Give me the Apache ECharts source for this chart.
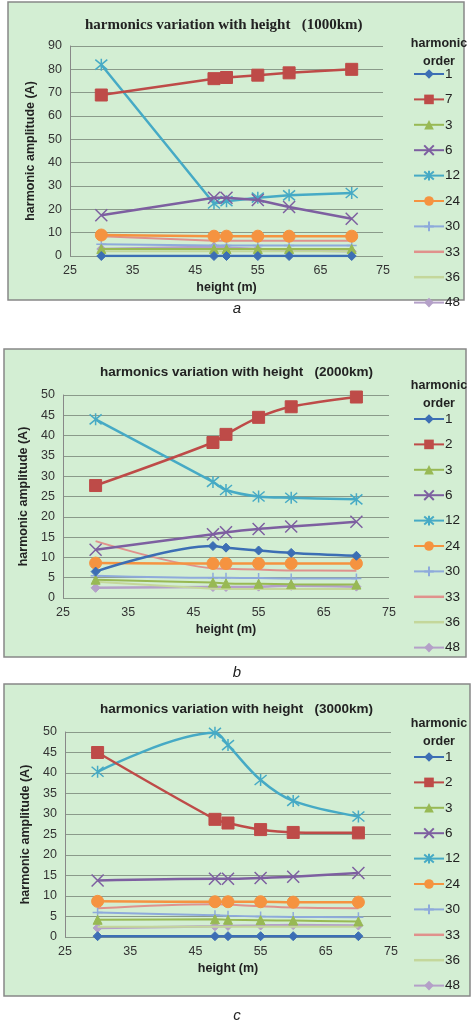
<!DOCTYPE html>
<html><head><meta charset="utf-8">
<script src="https://cdn.jsdelivr.net/npm/echarts@6/dist/echarts.min.js"></script>
<style>html,body{margin:0;padding:0;background:#fff}#c{width:474px;height:1022px}</style>
</head><body><div id="c"></div>
<script>
const heights = [30, 48, 50, 55, 60, 70];
const xTicks = [25, 35, 45, 55, 65, 75];
const ordersA = ['1','7','3','6','12','24','30','33','36','48'];
const ordersBC = ['1','2','3','6','12','24','30','33','36','48'];
// Panel a (1000km)
const a1  = [0, 0, 0, 0, 0, 0];
const a7  = [69, 76, 76.5, 77.5, 78.5, 80];
const a3  = [3, 3, 3, 3, 3, 3];
const a6  = [17.5, 25, 25, 24, 21, 16];
const a12 = [82, 22.5, 23.5, 25, 26, 27];
const a24 = [9, 8.5, 8.5, 8.5, 8.5, 8.5];
const a30 = [5, 4.5, 4.5, 4.5, 4.5, 4.5];
const a33 = [8.5, 6.5, 6.5, 6.5, 6.5, 6.5];
const a36 = [2, 2, 2, 2, 2, 2];
const a48 = [3, 4, 3.5, 3, 2.5, 2];
// Panel b (2000km)
const b1  = [6.5, 12.8, 12.4, 11.7, 11.1, 10.4];
const b2  = [27.7, 38.3, 40.3, 44.5, 47.1, 49.5];
const b3  = [4.5, 3.8, 3.6, 3.5, 3.4, 3.3];
const b6  = [11.9, 15.7, 16.2, 17, 17.6, 18.8];
const b12 = [44, 28.6, 26.6, 25, 24.7, 24.3];
const b24 = [8.6, 8.5, 8.5, 8.5, 8.5, 8.5];
const b30 = [5.5, 5, 5, 4.9, 4.8, 4.8];
const b33 = [14, 7.3, 7.2, 7, 6.8, 6.7];
const b36 = [4, 2.3, 2.2, 2.2, 2.2, 2.2];
const b48 = [2.5, 2.7, 2.7, 2.8, 3, 2.8];
// Panel c (3000km)
const c1  = [0.2, 0.2, 0.2, 0.2, 0.2, 0.2];
const c2  = [45, 28.7, 27.8, 26.2, 25.5, 25.4];
const c3  = [4.2, 4.3, 4.2, 4.1, 4, 3.8];
const c6  = [13.8, 14.2, 14.2, 14.4, 14.7, 15.6];
const c12 = [40.3, 49.8, 46.8, 38.3, 33.2, 29.4];
const c24 = [8.7, 8.6, 8.6, 8.6, 8.5, 8.5];
const c30 = [6, 5.3, 5.2, 5, 4.9, 4.8];
const c33 = [7, 8, 7.9, 7.5, 7.2, 7];
const c36 = [2.5, 2.5, 2.5, 2.5, 2.5, 2.5];
const c48 = [2.2, 2.6, 2.7, 2.8, 2.9, 2.8];

const colors = ['#3c6eb4','#be4b48','#98b954','#7d5fa0','#46aac5','#f59340','#8eaadb','#e0918c','#c4d79b','#b4a0c8'];
const xPath = 'path://M0,0L10,10M10,0L0,10';
const starPath = 'path://M0,0L10,10M10,0L0,10M5,-1L5,11';
const plusPath = 'path://M5,0L5,10M0,5L10,5';
const linePath = 'path://M0,0L30,0L30,2.5L0,2.5Z';
const symbols = ['diamond','rect','triangle',xPath,starPath,'circle',plusPath,'none','none','diamond'];
const sizes = [9,12,9,12,12,12,10,0,0,9];
const widths = [2.5,2.5,2,2.5,2.5,2.5,2,2,2,2.5];
const panels = [
  {names: ordersA, data:[a1,a7,a3,a6,a12,a24,a30,a33,a36,a48], max:90, interval:10, smooth:false},
  {names: ordersBC, data:[b1,b2,b3,b6,b12,b24,b30,b33,b36,b48], max:50, interval:5, smooth:true},
  {names: ordersBC, data:[c1,c2,c3,c6,c12,c24,c30,c33,c36,c48], max:50, interval:5, smooth:true}
];
const grids = [
  {left:70, width:313, top:46, height:210},
  {left:63, width:326, top:395, height:203},
  {left:65, width:326, top:732, height:205}
];
const boxes = [[8,2,456,298],[4,349,462,308],[4,684,466,312]];
const titles = ['harmonics variation with height   (1000km)','harmonics variation with height   (2000km)','harmonics variation with height   (3000km)'];
const titleY = [13, 360, 697];
const legTop = [62, 407, 745];
const ordTop = [30, 372, 710];
const capY = [309, 673, 1016];
const caps = ['a','b','c'];

const font = 'Liberation Sans';
const option = {
  animation:false, backgroundColor:'#fff',
  graphic: boxes.map(b=>({type:'rect', shape:{x:b[0],y:b[1],width:b[2],height:b[3]}, style:{fill:'#d3eed3', stroke:'#888', lineWidth:1.5}, z:-10}))
    .concat(caps.map((c,i)=>({type:'text', x:237, y:capY[i], style:{text:c, font:'italic 15px Liberation Sans', fill:'#222', align:'center', verticalAlign:'middle'}}))),
  title: titles.map((t,i)=>({text:t, left: i===0?80:95, top:titleY[i], textStyle:{fontFamily: i===0?'Liberation Serif':font, fontWeight:'bold', fontSize: i===0?15:13.5, color:'#222'}}))
    .concat([0,1,2].map(i=>({text:'harmonic\norder', left:434, textAlign:'center', top:ordTop[i], textStyle:{fontFamily:font, fontWeight:'bold', fontSize:12.5, lineHeight:18, color:'#222'}}))),
  legend: panels.map((p,i)=>({orient:'vertical', left:408, top:legTop[i], itemWidth:30, itemHeight:12, itemGap:11.4,
    data:p.names.map((n,k)=>symbols[k]==='none' ? {name:n, icon:linePath} : {name:n}),
    textStyle:{fontFamily:font, fontSize:13.5, color:'#222', padding:[0,0,0,-4]}, selectedMode:false})),
  grid: grids,
  xAxis: grids.map((g,i)=>({type:'value', gridIndex:i, min:25, max:75, interval:10,
    name:'height (m)', nameLocation:'middle', nameGap: 25, nameTextStyle:{fontFamily:font, fontWeight:'bold', fontSize:12.5, color:'#222'},
    axisLine:{show:false}, axisTick:{show:false}, splitLine:{show:false}, axisLabel:{fontFamily:font, fontSize:12.5, color:'#333'}})),
  yAxis: panels.map((p,i)=>({type:'value', gridIndex:i, min:0, max:p.max, interval:p.interval,
    name:'harmonic amplitude (A)', nameLocation:'middle', nameGap:33, nameTextStyle:{fontFamily:font, fontWeight:'bold', fontSize:12.5, color:'#222'},
    axisLine:{show:true, lineStyle:{color:'#888'}}, axisTick:{show:false}, splitLine:{lineStyle:{color:'#8a9a8a'}}, axisLabel:{fontFamily:font, fontSize:12.5, color:'#333'}})),
  series: []
};
panels.forEach((p,pi)=>{
  p.data.forEach((d,k)=>{
    const stroked = symbols[k].startsWith('path');
    option.series.push({type:'line', name:p.names[k], xAxisIndex:pi, yAxisIndex:pi,
      data: heights.map((h,j)=>[h,d[j]]), smooth: p.smooth ? 0.35 : false,
      symbol: symbols[k], symbolSize: sizes[k], showSymbol: sizes[k]>0,
      lineStyle:{color:colors[k], width:widths[k]},
      itemStyle: stroked ? {color:'rgba(0,0,0,0)', borderColor:colors[k], borderWidth:1.5} : {color:colors[k], borderColor:colors[k]},
      z: 10-k});
  });
});
const chart = echarts.init(document.getElementById('c'));
chart.setOption(option);
</script></body></html>
